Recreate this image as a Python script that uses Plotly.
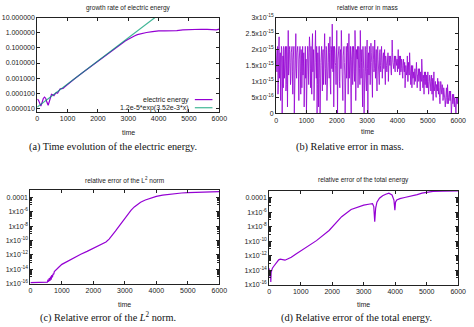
import numpy as np
import plotly.graph_objects as go

W, H = 474, 327

# ---------------- (a) electric energy ----------------
elec_time = [0, 40, 80, 120, 160, 200, 240, 280, 320, 360, 390, 430, 470, 510, 550, 590,
             630, 670, 710, 750, 800, 850, 900, 1000, 1200, 1500, 1800, 2100, 2400, 2600,
             2800, 2900, 3000, 3100, 3200, 3300, 3400, 3500, 3600, 3800, 4000, 4200, 4400,
             4600, 4800, 5000, 5200, 5400, 5600, 5800, 5900, 6000]
elec_energy = [4e-5, 3.5e-5, 2.2e-5, 1.4e-5, 2.5e-5, 4.5e-5, 5.5e-5, 4.5e-5, 2.5e-5, 1.6e-5,
               2.5e-5, 6e-5, 8.5e-5, 8e-5, 7e-5, 9e-5, 1.1e-4, 1.0e-4, 1.5e-4, 1.9e-4,
               2.0e-4, 2.1e-4, 2.6e-4, 4.0e-4, 8.2e-4, 2.35e-3, 6.7e-3, 1.95e-2, 5.6e-2, 0.11,
               0.21, 0.29, 0.38, 0.5, 0.62, 0.75, 0.87, 0.97, 1.05, 1.2, 1.35, 1.35, 1.3,
               1.4, 1.55, 1.65, 1.75, 1.72, 1.7, 1.6, 1.55, 1.75]
fit_amp = 1.2e-5
fit_rate = 3.52e-3
fit_time = np.linspace(0, 4000, 81)
fit_values = fit_amp * np.exp(fit_rate * fit_time)

# ---------------- (b) relative error in mass (units of 1e-16) ----------------
# samples on the 25-step grid and the samples half-way between them
mass_err_grid_e16 = [
    20, 13, 21, 9, 24, 16, 4, 21, 0, 18, 21, 11, 20, 7, 21, 2, 26, 14, 21, 9,
    19, 21, 6, 20, 0, 16, 25, 11, 21, 18, 4, 21, 13, 20, 8, 21, 15, 2, 20, 11,
    0, 19, 21, 9, 24, 14, 21, 6, 25, 17, 4, 21, 26, 11, 0, 19, 2, 21, 0, 16,
    21, 7, 20, 13, 25, 9, 21, 4, 19, 22, 11, 24, 6, 20, 28, 13, 2, 21, 16, 9,
    26, 0, 19, 21, 8, 20, 26, 13, 4, 21, 16, 0, 20, 11, 22, 6, 25, 14, 21, 0,
    18, 9, 21, 13, 26, 4, 20, 17, 8, 21, 14, 26, 11, 20, 2, 18, 0, 21, 13, 7,
    23, 0, 19, 21, 9, 22, 16, 5, 21, 13, 23, 11, 20, 7, 21, 15, 9, 20, 13, 21,
    11, 18, 14, 20, 9, 17, 13, 19, 10, 18, 15, 17, 12, 23, 16, 14, 18, 13, 17, 15,
    13, 20, 15, 12, 18, 14, 16, 11, 17, 13, 8, 15, 12, 18, 10, 14, 19, 11, 13, 8,
    15, 12, 9, 14, 11, 16, 8, 12, 10, 14, 7, 11, 17, 9, 12, 6, 11, 13, 8, 10,
    13, 6, 9, 11, 7, 12, 9, 4, 13, 8, 10, 5, 9, 11, 6, 8, 3, 10, 7, 9,
    4, 8, 6, 2, 7, 5, 9, 3, 6, 4, 7, 0, 5, 3, 6, 2, 4, 0, 5, 3, 4]
mass_err_mid_e16 = [
    15, 18, 6, 21, 11, 19, 13, 20, 17, 8, 20, 14, 21, 9, 18, 21, 12, 20, 16, 11,
    21, 13, 17, 21, 8, 20, 14, 19, 21, 10, 17, 21, 6, 18, 21, 12, 19, 9, 21, 17,
    14, 21, 12, 19, 21, 8, 17, 21, 13, 20, 11, 19, 16, 21, 9, 14, 21, 11, 7, 21,
    15, 19, 9, 21, 17, 14, 20, 12, 21, 16, 19, 9, 21, 14, 18, 21, 11, 20, 15, 21,
    13, 17, 21, 10, 19, 14, 21, 9, 18, 21, 12, 17, 21, 15, 19, 21, 11, 20, 8, 17,
    21, 14, 19, 10, 21, 15, 18, 21, 13, 20, 9, 21, 16, 11, 21, 14, 19, 21, 10, 20,
    14, 18, 12, 20, 15, 19, 11, 21, 17, 14, 19, 16, 13, 20, 17, 12, 19, 15, 18, 16,
    14, 19, 17, 13, 18, 15, 17, 19, 14, 16, 18, 13, 17, 19, 15, 16, 14, 18, 16, 17,
    16, 14, 18, 15, 13, 17, 12, 15, 14, 16, 11, 14, 13, 10, 16, 12, 14, 9, 15, 12,
    11, 13, 14, 10, 13, 9, 12, 14, 11, 9, 13, 10, 12, 8, 11, 13, 9, 10, 12, 8,
    10, 9, 12, 8, 10, 6, 11, 8, 7, 10, 6, 9, 7, 8, 10, 5, 7, 9, 6, 8,
    5, 7, 4, 6, 8, 3, 6, 5, 7, 4, 5, 2, 6, 4, 3, 5, 2, 4, 3, 5]
mass_time = np.arange(0, 6000.1, 12.5)
mass_err_e16 = np.empty(len(mass_time))
mass_err_e16[0::2] = mass_err_grid_e16
mass_err_e16[1::2] = mass_err_mid_e16
mass_err = mass_err_e16 * 1e-16

# ---------------- (c) relative error of the L2 norm ----------------
l2_time = [0, 500, 540, 560, 580, 600, 620, 640, 660, 680, 700, 720, 740, 760, 800, 900,
           1000, 1200, 1400, 1600, 1800, 2000, 2200, 2400, 2500, 2600, 2700, 2800, 2900,
           3000, 3100, 3200, 3300, 3400, 3500, 3650, 3800, 4000, 4200, 4400, 4600, 4800,
           5000, 5300, 5600, 6000]
l2_log10 = [-15.82, -15.82, -15.75, -15.4, -15.7, -15.2, -15.6, -15.0, -15.4, -14.8, -15.1,
            -14.6, -14.7, -14.3, -14.1, -13.7, -13.3, -12.8, -12.3, -11.9, -11.5, -11.1,
            -10.7, -10.2, -9.8, -9.3, -8.7, -8.1, -7.5, -6.9, -6.3, -5.8, -5.35, -5.0, -4.7,
            -4.4, -4.15, -3.9, -3.72, -3.6, -3.5, -3.42, -3.36, -3.3, -3.26, -3.24]
l2_err = 10.0 ** np.array(l2_log10)

# ---------------- (d) relative error of the total energy ----------------
te_time = [0, 10, 20, 30, 40, 50, 60, 80, 100, 150, 200, 250, 300, 350, 400, 450, 500, 600,
           700, 850, 1000, 1200, 1500, 1900, 2300, 2600, 3000, 3200, 3280, 3320, 3350, 3380,
           3420, 3500, 3600, 3700, 3800, 3900, 3960, 3990, 4010, 4050, 4150, 4300, 4500,
           4700, 4850, 5000, 5200, 5500, 6000]
te_log10 = [-13.7, -14.2, -13.9, -15.0, -14.0, -15.6, -14.3, -14.0, -13.7, -13.4, -13.1,
            -12.8, -12.55, -12.45, -12.5, -12.6, -12.6, -12.4, -12.2, -11.75, -11.3, -10.7,
            -9.9, -8.5, -6.6, -5.6, -5.0, -4.85, -4.8, -5.2, -7.3, -5.4, -4.6, -4.05, -3.7,
            -3.5, -3.35, -3.6, -4.3, -5.7, -4.6, -4.3, -4.1, -3.95, -3.8, -3.55, -3.35,
            -3.2, -3.1, -3.06, -3.05]
te_err = 10.0 ** np.array(te_log10)

# ---------------- tick labels ----------------
a_ticks = [1e-5, 1e-4, 1e-3, 1e-2, 1e-1, 1, 10]
a_ticktext = ["0.000010", "0.000100", "0.001000", "0.010000", "0.100000", "1.000000", "10.000000"]
b_ticks = [0, 5e-16, 1e-15, 1.5e-15, 2e-15, 2.5e-15, 3e-15]
b_ticktext = ["0", "5x10<sup>-16</sup>", "1x10<sup>-15</sup>", "1.5x10<sup>-15</sup>",
              "2x10<sup>-15</sup>", "2.5x10<sup>-15</sup>", "3x10<sup>-15</sup>"]
cd_ticks = [1e-16, 1e-14, 1e-12, 1e-10, 1e-8, 1e-6, 1e-4]
cd_ticktext = ["1x10<sup>-16</sup>", "1x10<sup>-14</sup>", "1x10<sup>-12</sup>",
               "1x10<sup>-10</sup>", "1x10<sup>-8</sup>", "1x10<sup>-6</sup>", "0.0001"]
cd_minor = [m * 10.0 ** e for e in range(-15, -2, 2) for m in range(1, 10)]
time_ticks = [0, 1000, 2000, 3000, 4000, 5000, 6000]

PURPLE = "#9400d3"
GREEN = "#009e73"
SANS = "Liberation Sans"
SERIF = "Liberation Serif"


def px_x(v):
    return v / W


def px_y(v):
    return 1 - v / H


fig = go.Figure()
fig.add_trace(go.Scatter(x=elec_time, y=elec_energy, mode="lines", line=dict(color=PURPLE, width=1.2),
                         xaxis="x", yaxis="y", showlegend=False))
fig.add_trace(go.Scatter(x=fit_time, y=fit_values, mode="lines", line=dict(color=GREEN, width=1.2),
                         opacity=0.75, xaxis="x", yaxis="y", showlegend=False))
fig.add_trace(go.Scatter(x=mass_time, y=mass_err, mode="lines", line=dict(color=PURPLE, width=0.8),
                         xaxis="x2", yaxis="y2", showlegend=False))
fig.add_trace(go.Scatter(x=l2_time, y=l2_err, mode="lines", line=dict(color=PURPLE, width=1.2),
                         xaxis="x3", yaxis="y3", showlegend=False))
fig.add_trace(go.Scatter(x=te_time, y=te_err, mode="lines", line=dict(color=PURPLE, width=1.2),
                         xaxis="x4", yaxis="y4", showlegend=False))

axis_common = dict(showline=True, linecolor="#222", linewidth=1, mirror="ticks", ticks="inside",
                   ticklen=3, tickcolor="#222", showgrid=False, zeroline=False,
                   tickfont=dict(family=SANS, size=7, color="#222"))

panels = {
    "": dict(x=(36, 222), y=(14, 110)),
    "2": dict(x=(280, 466), y=(14, 111.7)),
    "3": dict(x=(29, 222), y=(190, 286)),
    "4": dict(x=(273, 466), y=(190.7, 287)),
}
for k, p in panels.items():
    fig.layout["xaxis" + k] = dict(axis_common, domain=[px_x(p["x"][0]), px_x(p["x"][1])],
                                   anchor="y" + k, range=[0, 6000], tickmode="array",
                                   tickvals=time_ticks)
    fig.layout["yaxis" + k] = dict(axis_common, domain=[px_y(p["y"][1]), px_y(p["y"][0])],
                                   anchor="x" + k)

fig.layout.yaxis.update(type="log", range=[-5.22, 1], tickmode="array", tickvals=a_ticks,
                        ticktext=a_ticktext)
fig.layout.yaxis2.update(range=[0, 3e-15], tickmode="array", tickvals=b_ticks,
                         ticktext=b_ticktext)
for ax in (fig.layout.yaxis3, fig.layout.yaxis4):
    ax.update(type="log", range=[-16, -3], tickmode="array", tickvals=cd_ticks,
              ticktext=cd_ticktext,
              minor=dict(tickmode="array", tickvals=cd_minor, ticks="inside", ticklen=2,
                         tickcolor="#222"))

annotations = []
titles = [
    ("growth rate of electric energy", 129, 4),
    ("relative error in mass", 373, 4),
    ("relative error of the L<sup>2</sup> norm", 125.5, 180),
    ("relative error of the total energy", 369.5, 180),
]
for text, cx, cy in titles:
    annotations.append(dict(text=text, x=px_x(cx), y=px_y(cy), xref="paper", yref="paper",
                            showarrow=False, xanchor="center", yanchor="middle",
                            font=dict(family=SANS, size=6.5, color="#222")))
for cx, cy in [(129, 131), (373, 130), (125.5, 307), (369.5, 307)]:
    annotations.append(dict(text="time", x=px_x(cx), y=px_y(cy), xref="paper", yref="paper",
                            showarrow=False, xanchor="center", yanchor="middle",
                            font=dict(family=SANS, size=7, color="#222")))
captions = [
    ("(a) Time evolution of the electric energy.", 113, 146),
    ("(b) Relative error in mass.", 356, 146),
    ("(c) Relative error of the <i>L</i><sup>2</sup> norm.", 108, 320),
    ("(d) Relative error of the total energy.", 362, 321),
]
for text, cx, cy in captions:
    annotations.append(dict(text=text, x=px_x(cx), y=px_y(cy), xref="paper", yref="paper",
                            showarrow=False, xanchor="center", yanchor="middle",
                            font=dict(family=SERIF, size=10.3, color="#111")))

# legend of panel (a): right-aligned text followed by a line sample
legend_rows = [("electric energy", PURPLE, 97.7, 1.0), ("1.2e-5*exp(3.52e-3*x)", GREEN, 106, 0.75)]
shapes = []
for text, color, cy, op in legend_rows:
    annotations.append(dict(text=text, x=px_x(193), y=px_y(cy), xref="paper", yref="paper",
                            showarrow=False, xanchor="right", yanchor="middle",
                            font=dict(family=SANS, size=7, color="#222")))
    shapes.append(dict(type="line", xref="paper", yref="paper", x0=px_x(197), x1=px_x(215),
                       y0=px_y(cy), y1=px_y(cy), line=dict(color=color, width=1.2), opacity=op))

fig.update_layout(width=W, height=H, margin=dict(l=0, r=0, t=0, b=0),
                  paper_bgcolor="white", plot_bgcolor="white",
                  annotations=annotations, shapes=shapes, showlegend=False)

fig.write_html("out.html")
